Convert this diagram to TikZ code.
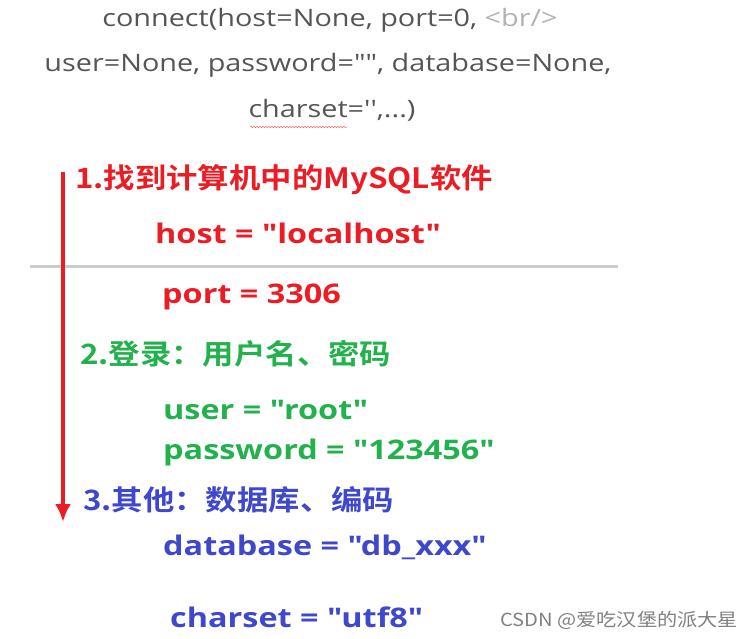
\documentclass[tikz,border=0pt]{standalone}
\usepackage{fontspec}
\setmainfont{Open Sans}[Ligatures=TeXOff, FakeStretch=1.2]
\newfontfamily\cjk{Noto Sans CJK SC}[BoldFont={Noto Sans CJK SC Bold}, FakeStretch=1.12, Ligatures=TeXOff]
\usetikzlibrary{decorations.pathmorphing,arrows.meta}
\definecolor{cred}{HTML}{EC1C24}
\definecolor{cgreen}{HTML}{22B14C}
\definecolor{cblue}{HTML}{3F48CC}
\definecolor{cgray}{HTML}{555555}
\begin{document}
\begin{tikzpicture}[x=1pt,y=-1pt,
  top/.style={font=\fontsize{24}{28}\selectfont, text=cgray, inner sep=0},
  lbl/.style={anchor=west, inner sep=0, font=\fontsize{27}{30}\selectfont\bfseries},
  hd/.style={anchor=west, inner sep=0, font=\fontsize{28}{30}\selectfont\bfseries\cjk}]
\useasboundingbox (0,0) rectangle (754,639);
\node[top] (l1) at (330,20) {connect(host=None, port=0, \textcolor{gray!60}{<br/>}};
\node[top] (l2) at (328,65) {user=None, password="", database=None,};
\node[top] (l3) at (332,110) {charset='',...)};
\draw[red!70, decorate, decoration={snake, amplitude=0.8pt, segment length=3pt}] (250,127) -- (347,127);
\node[hd, text=cred] (h1) at (75,180) {1.找到计算机中的MySQL软件};
\node[lbl, text=cred] (host) at (155,233) {host = "localhost"};
\draw[gray!40, line width=3pt] (30,266) -- (618,266);
\node[lbl, text=cred] (port) at (162,297) {port = 3306};
\node[hd, text=cgreen] (h2) at (80,354) {2.登录：用户名、密码};
\node[lbl, text=cgreen] (user) at (163,410) {user = "root"};
\node[lbl, text=cgreen] (pw) at (163,452) {password = "123456"};
\node[hd, text=cblue] (h3) at (83,500) {3.其他：数据库、编码};
\node[lbl, text=cblue] (db) at (163,547) {database = "db\_xxx"};
\node[lbl, text=cblue] (cs) at (170,617) {charset = "utf8"};
\node[anchor=east, inner sep=0, text=gray, font=\fontsize{18}{20}\selectfont\cjk] (wm) at (738,620) {CSDN @爱吃汉堡的派大星};
\coordinate (a1) at (63,172);
\coordinate (a2) at (63,522);
\draw[cred, line width=4pt, -{Latex[length=18pt,width=16pt]}] (a1) -- (a2);
\end{tikzpicture}
\end{document}
